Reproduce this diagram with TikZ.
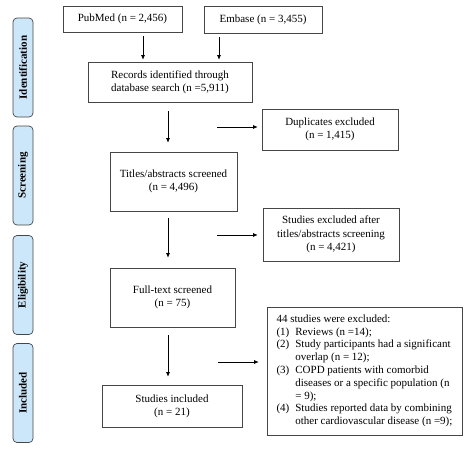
\documentclass[tikz,border=0pt]{standalone}
\usepackage{fontspec}
\setmainfont{Liberation Serif}
\usetikzlibrary{arrows.meta}
\definecolor{stageblue}{RGB}{205,231,250}
\definecolor{edgegray}{RGB}{70,70,70}

\begin{document}
\begin{tikzpicture}[x=1pt, y=-1pt,
    box/.style={draw=edgegray, line width=0.7pt, align=center, inner sep=2pt, font=\fontsize{11}{13.3}\selectfont},
    stage/.style={draw=edgegray, fill=stageblue, line width=0.7pt, rounded corners=4pt, rotate=90, minimum width=99pt, minimum height=20pt, inner sep=0pt, font=\fontsize{11}{13}\selectfont\bfseries},
    arr/.style={-{Latex[length=4.5pt,width=4pt]}, line width=0.6pt}]
      \useasboundingbox (0,0) rectangle (474,453);
      % Stages
      \node[stage] (ident) at (23,67.5) {Identification};
      \node[stage] (screen) at (23,175.5) {Screening};
      \node[stage] (elig) at (23,285) {Eligibility};
      \node[stage] (incl) at (23,393) {Included};

      % Sources
      \node[box, minimum width=119pt, minimum height=26pt] (pubmed) at (122.5,19) {PubMed (n = 2,456)};
      \node[box, minimum width=118pt, minimum height=27pt] (embase) at (263,19.5) {Embase (n = 3,455)};
      \node[box, minimum width=164pt, minimum height=40pt] (records) at (170,82) {Records identified through\\database search (n =5,911)};
      \draw[arr, shorten <=4pt, shorten >=2pt] ([xshift=20.5pt]pubmed.south) -- ([xshift=20.5pt]pubmed.south |- records.north);
      \draw[arr, shorten <=4pt, shorten >=2pt] ([xshift=-44pt]embase.south) -- ([xshift=-44pt]embase.south |- records.north);

      % Main column
      \node[box, minimum width=127pt, minimum height=59pt] (titles) at (173.5,181.5) {Titles/abstracts screened\\(n = 4,496)};
      \node[box, minimum width=125pt, minimum height=59pt] (fulltext) at (172.5,297.5) {Full-text screened\\(n = 75)};
      \node[box, minimum width=140pt, minimum height=42pt] (included) at (172,406) {Studies included\\(n = 21)};
      \coordinate (spine) at (168,0);
      \draw[arr, shorten <=9pt, shorten >=9pt] (records.south -| spine) -- (titles.north -| spine);
      \draw[arr, shorten <=7pt, shorten >=10pt] (titles.south -| spine) -- (fulltext.north -| spine);
      \draw[arr, shorten <=8pt, shorten >=8pt] (fulltext.south -| spine) -- (included.north -| spine);

      % Exclusions
      \node[box, minimum width=136pt, minimum height=41pt] (dupes) at (330,129.5) {Duplicates excluded\\(n = 1,415)};
      \node[box, minimum width=136pt, minimum height=53pt] (excta) at (331,234.5) {Studies excluded after\\titles/abstracts screening\\(n = 4,421)};
      \node[box, minimum width=195pt, minimum height=128pt] (excft) at (364.5,371) {\fontsize{11}{12.8}\selectfont
        \begin{tabular}{@{}l@{\hspace{6pt}}l@{}}
          \multicolumn{2}{@{}l@{}}{44 studies were excluded:}\\
          (1) & Reviews (n =14);\\
          (2) & Study participants had a significant\\
              & overlap (n = 12);\\
          (3) & COPD patients with comorbid\\
              & diseases or a specific population (n\\
              & = 9);\\
          (4) & Studies reported data by combining\\
              & other cardiovascular disease (n =9);
        \end{tabular}};
      \coordinate (d1) at (217,127);
      \coordinate (d2) at (217,235);
      \coordinate (d3) at (218,362);
      \draw[arr, shorten >=4pt] (d1) -- (d1 -| dupes.west);
      \draw[arr, shorten >=5pt] (d2) -- (d2 -| excta.west);
      \draw[arr, shorten >=8pt] (d3) -- (d3 -| excft.west);
\end{tikzpicture}
\end{document}
